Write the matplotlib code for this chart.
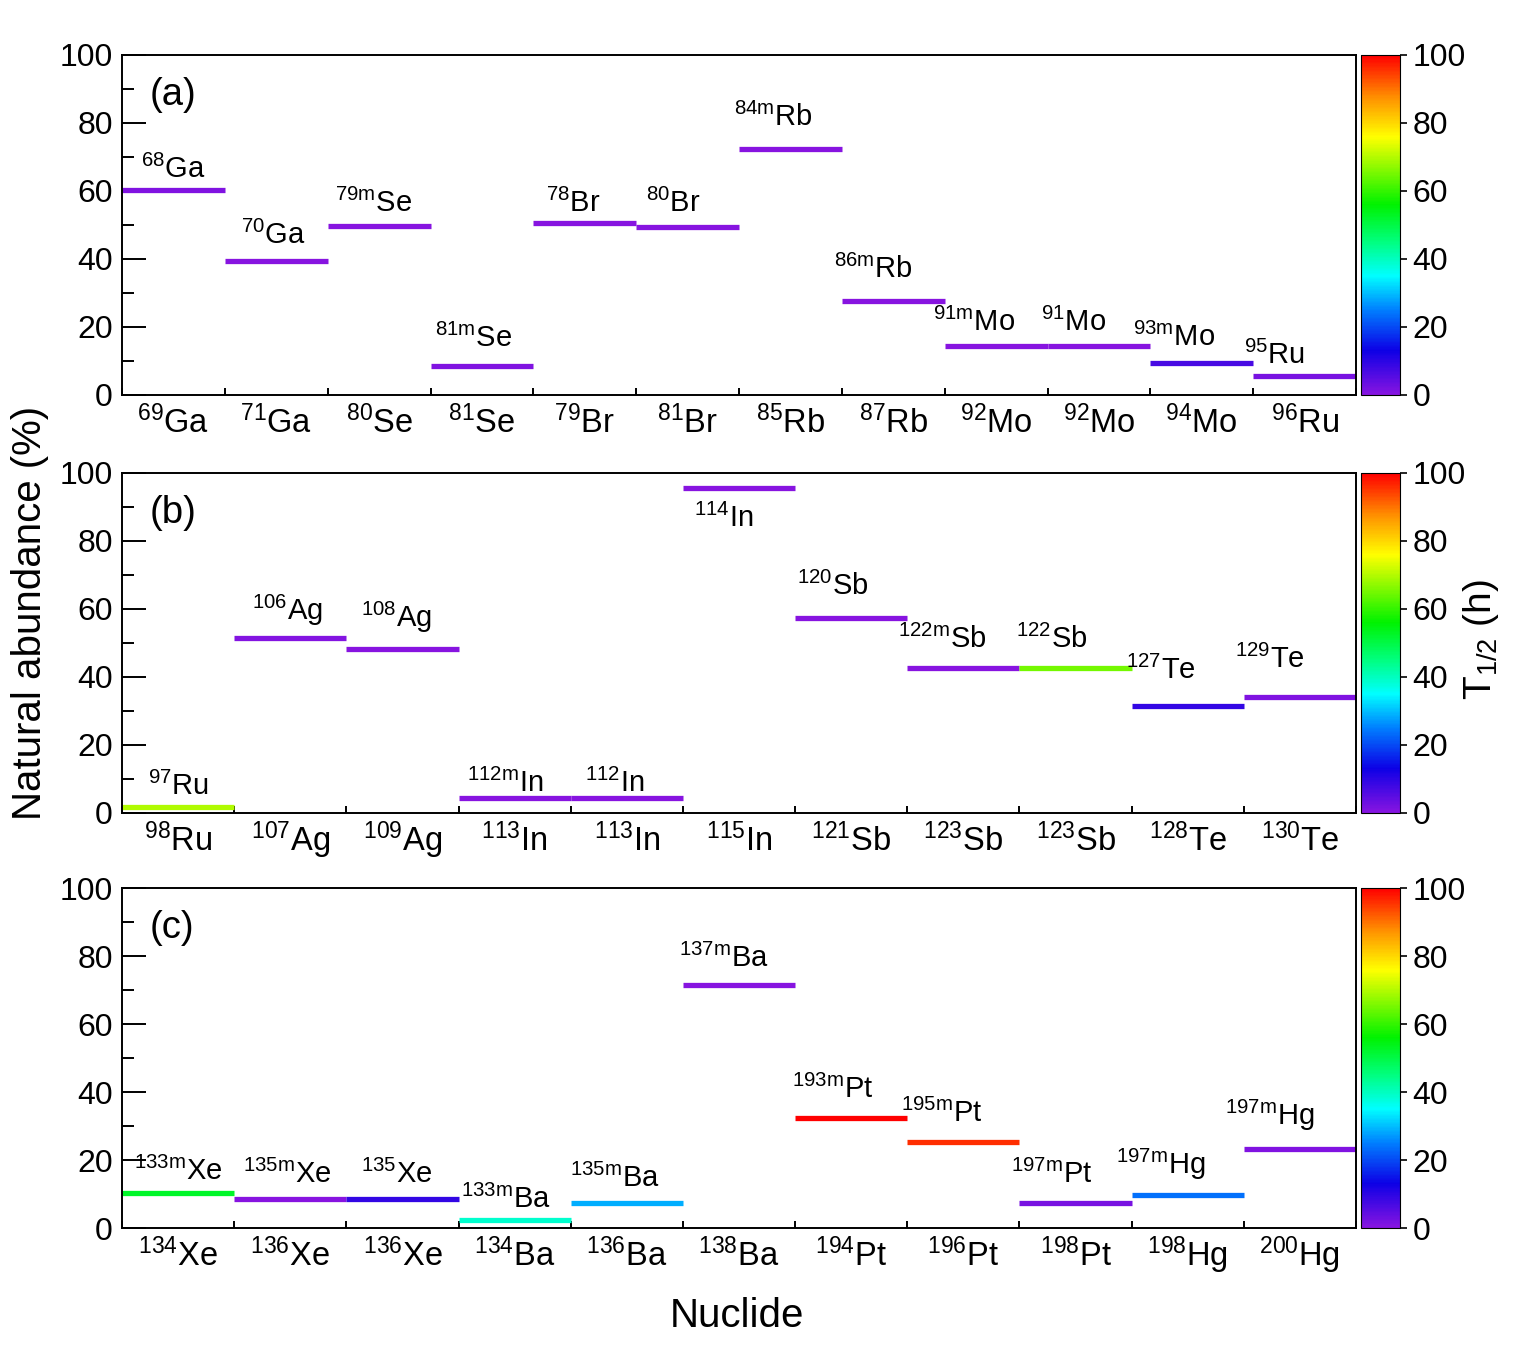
import re
import numpy as np
import matplotlib
matplotlib.use("Agg")
import matplotlib.pyplot as plt
from matplotlib.colors import LinearSegmentedColormap, Normalize

# ---------------- data ----------------
a_targets = ["69Ga", "71Ga", "80Se", "81Se", "79Br", "81Br", "85Rb", "87Rb", "92Mo", "92Mo", "94Mo", "96Ru"]
a_products = ["68Ga", "70Ga", "79mSe", "81mSe", "78Br", "80Br", "84mRb", "86mRb", "91mMo", "91Mo", "93mMo", "95Ru"]
a_abundance = [60.4, 39.5, 49.6, 8.5, 50.5, 49.5, 72.5, 27.6, 14.3, 14.3, 9.3, 5.5]
a_halflife = [1.13, 0.35, 0.065, 0.95, 0.1, 0.29, 0.34, 0.017, 0.018, 0.26, 6.85, 1.64]

b_targets = ["98Ru", "107Ag", "109Ag", "113In", "113In", "115In", "121Sb", "123Sb", "123Sb", "128Te", "130Te"]
b_products = ["97Ru", "106Ag", "108Ag", "112mIn", "112In", "114In", "120Sb", "122mSb", "122Sb", "127Te", "129Te"]
b_abundance = [1.9, 51.5, 48.3, 4.3, 4.3, 95.5, 57.3, 42.6, 42.6, 31.5, 34.2]
b_halflife = [69.6, 0.4, 0.04, 0.34, 0.25, 0.02, 0.26, 0.07, 65.0, 9.35, 1.16]

c_targets = ["134Xe", "136Xe", "136Xe", "134Ba", "136Ba", "138Ba", "194Pt", "196Pt", "198Pt", "198Hg", "200Hg"]
c_products = ["133mXe", "135mXe", "135Xe", "133mBa", "135mBa", "137mBa", "193mPt", "195mPt", "197mPt", "197mHg", "197mHg"]
c_abundance = [10.4, 8.4, 8.4, 2.4, 7.5, 71.6, 32.5, 25.4, 7.3, 9.6, 23.2]
c_halflife = [52.6, 0.25, 9.14, 38.9, 28.7, 0.04, 104.0, 96.0, 1.59, 23.8, 1.0]

# label baselines (data units, layout only)
a_label_y = [63.7, 44.4, 53.9, 14.2, 53.9, 53.9, 79.1, 34.3, 18.9, 18.9, 14.4, 9.1]
b_label_y = [5.3, 56.8, 54.8, 6.3, 6.3, 84.2, 64.1, 48.4, 48.4, 39.4, 42.5]
c_label_y = [14.1, 13.3, 13.3, 5.8, 12.2, 76.9, 38.1, 31.3, 13.3, 15.8, 30.3]

# ---------------- style ----------------
plt.rcParams["font.family"] = ["Liberation Sans", "DejaVu Sans"]
plt.rcParams["mathtext.fontset"] = "custom"
plt.rcParams["mathtext.rm"] = "Liberation Sans"
plt.rcParams["mathtext.it"] = "Liberation Sans"
plt.rcParams["mathtext.bf"] = "Liberation Sans:bold"
plt.rcParams["mathtext.default"] = "regular"

cmap = LinearSegmentedColormap.from_list("rootrainbow", [
    (0.00, (0.53, 0.08, 0.88)),
    (0.13, (0.05, 0.0, 0.90)),
    (0.25, (0.0, 0.50, 1.0)),
    (0.35, (0.0, 1.0, 1.0)),
    (0.45, (0.0, 1.0, 0.5)),
    (0.56, (0.0, 0.95, 0.0)),
    (0.76, (1.0, 1.0, 0.0)),
    (0.88, (1.0, 0.55, 0.0)),
    (1.00, (1.0, 0.0, 0.0)),
])
norm = Normalize(vmin=0, vmax=100)


def nuc(s):
    m = re.match(r"^(\d+m?)([A-Z][a-z]?)$", s)
    return r"$^{%s}$%s" % (m.group(1), m.group(2))


W, H = 1537, 1356
fig = plt.figure(figsize=(W / 100, H / 100), dpi=100)

ax_left, ax_right = 122, 1356
cb_left, cb_right = 1361, 1400
panel_tb = [(55, 395), (473, 813), (888, 1228)]

panels = [
    (a_targets, a_products, a_abundance, a_halflife, a_label_y, "(a)"),
    (b_targets, b_products, b_abundance, b_halflife, b_label_y, "(b)"),
    (c_targets, c_products, c_abundance, c_halflife, c_label_y, "(c)"),
]

for (top, bot), (tg, pr, ab, T, ly, letter) in zip(panel_tb, panels):
    ax = fig.add_axes([ax_left / W, 1 - bot / H, (ax_right - ax_left) / W, (bot - top) / H])
    cax = fig.add_axes([cb_left / W, 1 - bot / H, (cb_right - cb_left) / W, (bot - top) / H])
    n = len(tg)
    x0 = np.arange(n)
    lc = ax.hlines(ab, x0, x0 + 1, linewidth=3.8, cmap=cmap, norm=norm)
    lc.set_array(np.asarray(T, dtype=float))
    lc.set_capstyle("butt")
    ax.set_xlim(0, n)
    ax.set_ylim(0, 100)

    # x axis: ticks at bin edges, labels at bin centres
    ax.set_xticks(np.arange(n + 1))
    ax.set_xticklabels([])
    ax.set_xticks(x0 + 0.5, minor=True)
    ax.set_xticklabels([nuc(t) for t in tg], minor=True)
    ax.tick_params(axis="x", which="major", direction="in", length=5, width=1.4)
    ax.tick_params(axis="x", which="minor", length=0, pad=27.5, labelsize=23.5)
    for lbl in ax.get_xticklabels(minor=True):
        lbl.set_verticalalignment("baseline")

    ax.set_yticks(np.arange(0, 101, 20))
    ax.set_yticks(np.arange(10, 100, 20), minor=True)
    ax.tick_params(axis="y", which="major", direction="in", length=17, width=1.4,
                   labelsize=23, pad=6.5)
    ax.tick_params(axis="y", which="minor", direction="in", length=8.5, width=1.4)
    for sp in ax.spines.values():
        sp.set_linewidth(1.4)

    # product labels
    for i, (p, y) in enumerate(zip(pr, ly)):
        xl = i + 0.5 - 0.027 * i
        ax.text(xl, y, nuc(p), ha="center", va="baseline", fontsize=21)

    ax.text(0.022, 0.882, letter, transform=ax.transAxes, ha="left", va="center", fontsize=27.5)

    cb = fig.colorbar(lc, cax=cax)
    cb.set_ticks(np.arange(0, 101, 20))
    cax.tick_params(labelsize=23, length=5, width=1.2, direction="out", pad=4)
    cb.outline.set_linewidth(0.8)

fig.text(0.0195, 0.548, "Natural abundance (%)", rotation=90, ha="center", va="center", fontsize=29)
fig.text(737 / W, 1 - 1316 / H, "Nuclide", ha="center", va="center", fontsize=29)
fig.text(1481 / W, 1 - 640 / H, r"$T_{1/2}$ (h)", rotation=90, ha="center", va="center", fontsize=28)

fig.savefig("out.png", dpi=100)
